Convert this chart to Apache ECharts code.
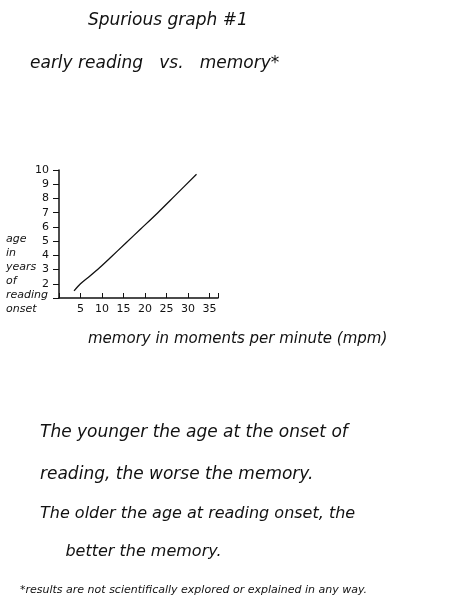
<!DOCTYPE html>
<html>
<head>
<meta charset="utf-8">
<script src="https://cdn.jsdelivr.net/npm/echarts@6/dist/echarts.min.js"></script>
<style>body{margin:0;background:#fff}#c{width:474px;height:609px}</style>
</head>
<body>
<div id="c"></div>
<script>
var memory = [3.5, 5, 7, 9.5, 12, 15.5, 19, 23, 27, 32];
var ageOnset = [1.5, 2.0, 2.5, 3.15, 3.85, 4.85, 5.85, 7.0, 8.2, 9.7];
var xTicks = [5, 10, 15, 20, 25, 30, 35];
var yTicks = [2, 3, 4, 5, 6, 7, 8, 9, 10];

var hand = '"DejaVu Sans"';
var chart = echarts.init(document.getElementById('c'));
var data = memory.map(function (m, i) { return [m, ageOnset[i]]; });

chart.setOption({
    backgroundColor: '#fff',
    grid: { left: 59, width: 159, top: 170, height: 128 },
    xAxis: {
        type: 'value', min: 0, max: 37, interval: 5,
        axisLine: { lineStyle: { color: '#111', width: 1.5 } },
        axisTick: { show: true, length: 5, inside: true, lineStyle: { color: '#111' } },
        splitLine: { show: false },
        axisLabel: {
            color: '#111', fontFamily: hand, fontSize: 11, margin: 6,
            formatter: function (v) { return xTicks.indexOf(v) >= 0 ? v : ''; }
        }
    },
    yAxis: {
        type: 'value', min: 1, max: 10, interval: 1,
        axisLine: { show: true, lineStyle: { color: '#111', width: 1.5 } },
        axisTick: { show: true, length: 6, lineStyle: { color: '#111' } },
        splitLine: { show: false },
        axisLabel: {
            color: '#111', fontFamily: hand, fontSize: 11, margin: 10,
            formatter: function (v) { return yTicks.indexOf(v) >= 0 ? v : ''; }
        }
    },
    series: [{
        type: 'line', data: data, smooth: 0.3, symbol: 'none',
        lineStyle: { color: '#111', width: 1.3 }
    }],
    graphic: [
        { type: 'text', left: 88, top: 12, style: { text: 'Spurious graph #1', font: 'italic 17px ' + hand, fill: '#111' } },
        { type: 'text', left: 30, top: 55, style: { text: 'early reading   vs.   memory*', font: 'italic 17px ' + hand, fill: '#111' } },
        { type: 'text', left: 6, top: 232, style: { text: 'age\nin\nyears\nof\nreading\nonset', font: 'italic 11px ' + hand, fill: '#111', lineHeight: 14 } },
        { type: 'text', left: 88, top: 332, style: { text: 'memory in moments per minute (mpm)', font: 'italic 15px ' + hand, fill: '#111' } },
        { type: 'text', left: 40, top: 412, style: { text: 'The younger the age at the onset of\nreading, the worse the memory.', font: 'italic 17px ' + hand, fill: '#111', lineHeight: 42 } },
        { type: 'text', left: 40, top: 495, style: { text: 'The older the age at reading onset, the\n     better the memory.', font: 'italic 16px ' + hand, fill: '#111', lineHeight: 38 } },
        { type: 'text', left: 20, top: 585, style: { text: '*results are not scientifically explored or explained in any way.', font: 'italic 11px ' + hand, fill: '#111' } }
    ]
});
</script>
</body>
</html>
